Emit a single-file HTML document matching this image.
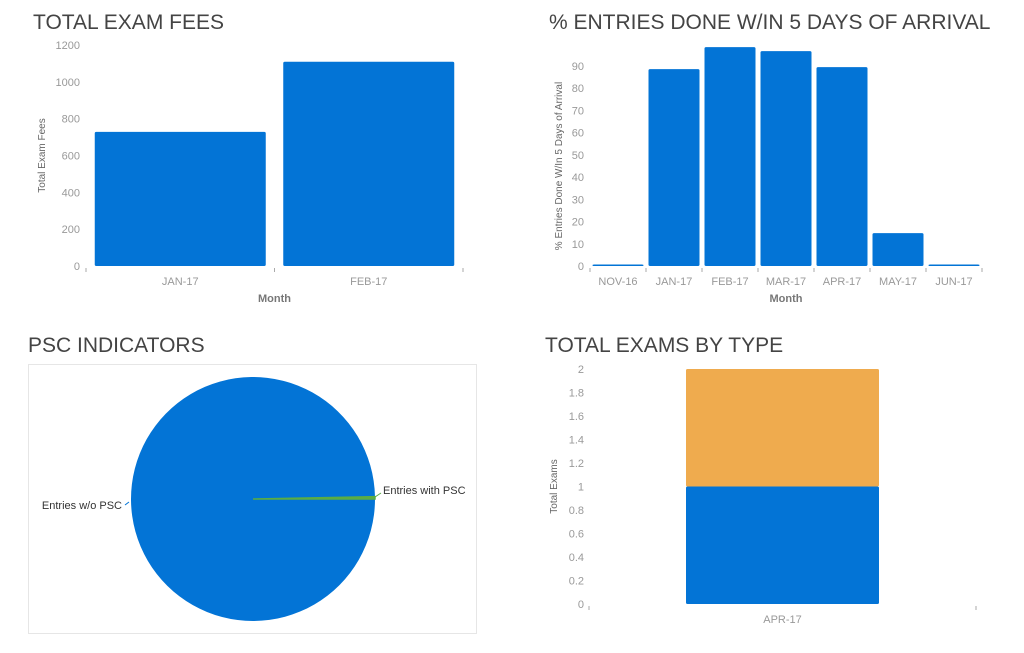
<!DOCTYPE html>
<html><head><meta charset="utf-8"><style>
html,body{margin:0;padding:0;background:#fff;width:1024px;height:653px;overflow:hidden}
svg{display:block}
.t{font-family:"Liberation Sans",sans-serif}
</style></head><body>
<svg id="s" width="1024" height="653" xmlns="http://www.w3.org/2000/svg" class="t">
<text x="33" y="29" font-size="21" fill="#444">TOTAL EXAM FEES</text>
<text x="549" y="29" font-size="21" fill="#444">% ENTRIES DONE W/IN 5 DAYS OF ARRIVAL</text>
<text x="28" y="352" font-size="21" fill="#444">PSC INDICATORS</text>
<text x="545" y="352" font-size="21" fill="#444">TOTAL EXAMS BY TYPE</text>
<rect x="28.5" y="364.5" width="448" height="269" fill="#fff" stroke="#e6e6e6"/>
<g id="g"></g>
</svg>
<script>
// Chart 1
const feeCats=["JAN-17","FEB-17"];
const feeVals=[728,1109];
const feeTicks=[0,200,400,600,800,1000,1200];
// Chart 2
const entCats=["NOV-16","JAN-17","FEB-17","MAR-17","APR-17","MAY-17","JUN-17"];
const entVals=[0,88.6,98.5,96.7,89.5,14.8,0];
const entTicks=[0,10,20,30,40,50,60,70,80,90];
// Chart 3
const pieLabels=["Entries w/o PSC","Entries with PSC"];
const pieVals=[99.7,0.3];
// Chart 4
const exCats=["APR-17"];
const exSeriesA=[1];
const exSeriesB=[1];
const exTicks=[0,0.2,0.4,0.6,0.8,1,1.2,1.4,1.6,1.8,2];

const NS="http://www.w3.org/2000/svg";
const g=document.getElementById('g');
function mk(tag,attrs,name,txt){const e=document.createElementNS(NS,tag);for(const k in attrs)e.setAttribute(k,attrs[k]);


if(txt!==undefined)e.textContent=txt;g.appendChild(e);return e;}
const BLUE="#0374d6",GREY="#999";

function barChart(o){
  const y=v=>o.y0-(v-o.min)/(o.max-o.min)*(o.y0-o.y1);
  const slot=(o.x1-o.x0)/o.cats.length;
  o.ticks.forEach(t=>mk('text',{x:o.tx,y:y(t)+4,'font-size':11,fill:GREY,'text-anchor':'end'},'y-tick-label',String(t)));
  mk('line',{x1:o.x0,x2:o.x1,y1:o.y0+0.5,y2:o.y0+0.5,stroke:o.axisLine?'#ccc':'none'},'x-axis-line');
  for(let i=0;i<=o.cats.length;i++)mk('line',{x1:o.x0+i*slot,x2:o.x0+i*slot,y1:o.y0+2,y2:o.y0+6,stroke:'#aaa'},'x-tick');
  o.cats.forEach((c,i)=>{
    const cx=o.x0+slot*(i+0.5);
    mk('text',{x:cx,y:o.y0+19,'font-size':11,fill:GREY,'text-anchor':'middle'},'x-tick-label',c);
    let base=0;
    o.series.forEach((s,si)=>{
      const v=s.vals[i];const yt=y(base+v),yb=y(base);
      const h=Math.max(yb-yt,1.5);
      mk('rect',{x:cx-o.bw/2,y:yb-h,width:o.bw,height:h,fill:s.color,rx:1.5},'bar-'+c.toLowerCase()+(o.series.length>1?'-s'+si:''));
      base+=v;
    });
  });
  if(o.xtitle)mk('text',{x:(o.x0+o.x1)/2,y:o.y0+36,'font-size':11,fill:'#777','font-weight':'bold','text-anchor':'middle'},'x-axis-title',o.xtitle);
  mk('text',{x:0,y:0,'font-size':10,fill:'#666','text-anchor':'middle',transform:`translate(${o.ytx},${(o.y0+o.y1)/2}) rotate(-90)`},'y-axis-title',o.ytitle);
}
barChart({cats:feeCats,series:[{vals:feeVals,color:BLUE}],ticks:feeTicks,min:0,max:1200,x0:86,x1:463,y0:266,y1:45,bw:171,tx:80,xtitle:"Month",ytitle:"Total Exam Fees",ytx:45});
barChart({cats:entCats,series:[{vals:entVals,color:BLUE}],ticks:entTicks,min:0,max:90,x0:590,x1:982,y0:266,y1:66,bw:51,tx:584,xtitle:"Month",ytitle:"% Entries Done W/In 5 Days of Arrival",ytx:562});
barChart({cats:exCats,series:[{vals:exSeriesA,color:BLUE},{vals:exSeriesB,color:"#efab4e"}],ticks:exTicks,min:0,max:2,x0:589,x1:976,y0:604,y1:369,bw:193,tx:584,xtitle:"",ytitle:"Total Exams",ytx:557});

// Pie
const cx=253,cy=499,r=122;
const total=pieVals.reduce((a,b)=>a+b,0);
const colors=[BLUE,"#5aac44"];
let ang=0; // start at 3 o'clock going clockwise for first (drawn so small slice sits just above)
const sm=pieVals[1]/total*2*Math.PI;
// slice 1 (w/o) from 0 clockwise to 2pi - sm ; slice 2 from -sm to 0
const starts=[0,-sm];
pieVals.forEach((v,i)=>{
  const a0=starts[i],a1=a0+v/total*2*Math.PI;
  const large=(a1-a0)>Math.PI?1:0;
  const p=`M${cx},${cy} L${cx+r*Math.cos(a0)},${cy+r*Math.sin(a0)} A${r},${r} 0 ${large} 1 ${cx+r*Math.cos(a1)},${cy+r*Math.sin(a1)} Z`;
  mk('path',{d:p,fill:colors[i],stroke:i?colors[i]:'none','stroke-width':i?1.5:0},'pie-slice-'+(i?'with-psc':'without-psc'));
});
mk('line',{x1:cx+r,y1:cy-2,x2:cx+r+6,y2:cy-6,stroke:"#5aac44"},'leader-with-psc');
mk('text',{x:383,y:494,'font-size':11,fill:'#333'},'label-with-psc',pieLabels[1]);
mk('line',{x1:cx-r-2,y1:cy+3,x2:cx-r-6,y2:cy+6,stroke:BLUE},'leader-without-psc');
mk('text',{x:122,y:509,'font-size':11,fill:'#333','text-anchor':'end'},'label-without-psc',pieLabels[0]);
</script>
</body></html>
